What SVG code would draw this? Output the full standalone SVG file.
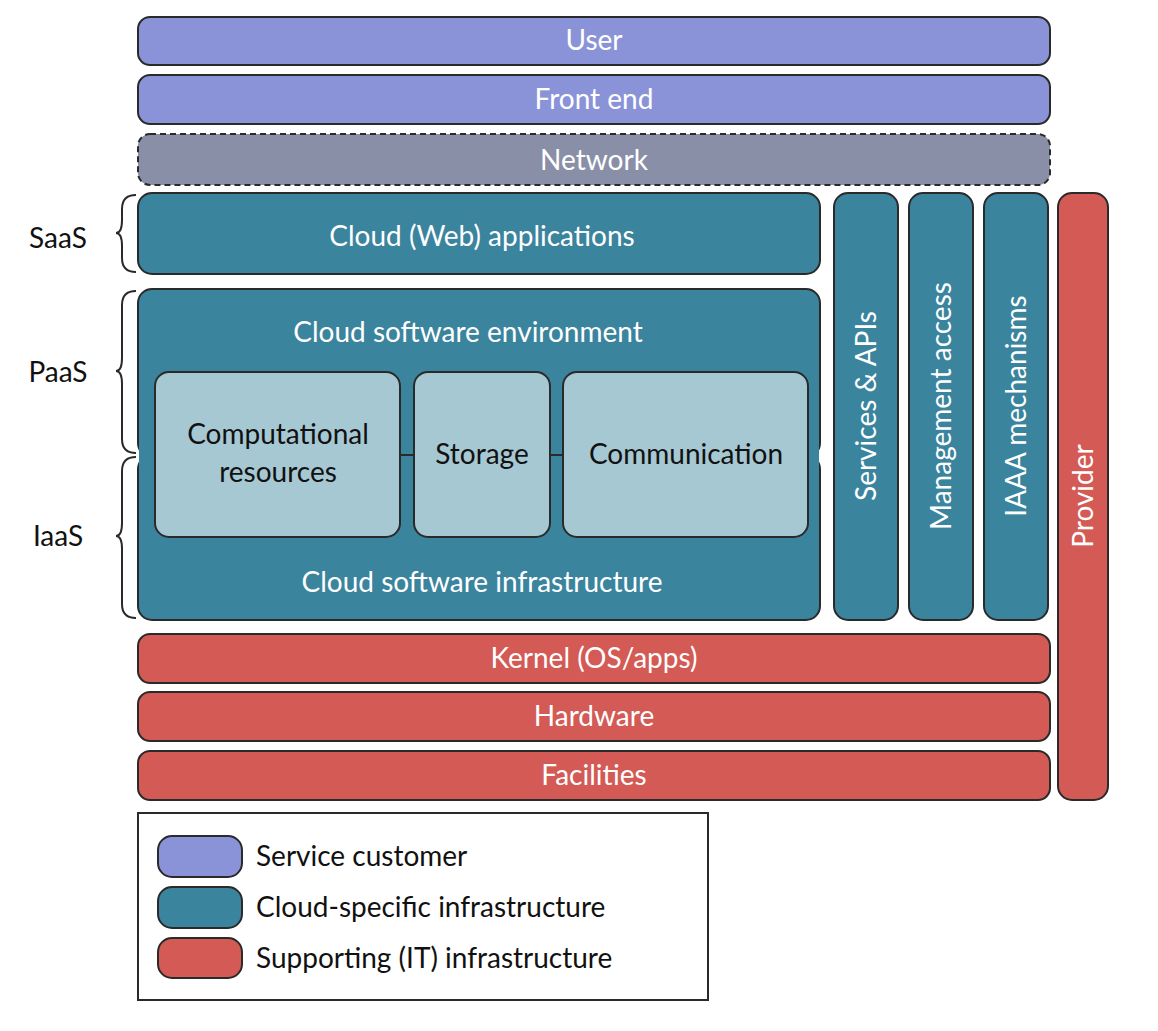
<svg xmlns="http://www.w3.org/2000/svg" width="1158" height="1031" viewBox="0 0 1158 1031">
<style>
.c{fill:#8b93d8;stroke:#2a2a2a;stroke-width:2}
.n{fill:#8a8fa8;stroke:#2a2a2a;stroke-width:2;stroke-dasharray:6 4}
.t{fill:#3b849e;stroke:#2a2a2a;stroke-width:2}
.r{fill:#d35a55;stroke:#2a2a2a;stroke-width:2}
.l{fill:#a6c8d3;stroke:#2a2a2a;stroke-width:2}
text{font-family:Lato,"Open Sans",sans-serif;font-size:28px;text-anchor:middle}
.w{fill:#fff}
.k{fill:#111}
.b{fill:none;stroke:#2a2a2a;stroke-width:2}
</style>
<g id="user"><rect class="c" x="138" y="17" width="912" height="48" rx="12"/><text class="w" x="594" y="50">User</text></g>
<g id="frontend"><rect class="c" x="138" y="75" width="912" height="49" rx="12"/><text class="w" x="594" y="109">Front  end</text></g>
<g id="network"><rect class="n" x="138" y="134" width="912" height="51" rx="12"/><text class="w" x="594" y="170">Network</text></g>
<g id="saas"><rect class="t" x="138" y="193" width="682" height="81" rx="14"/><text class="w" x="482" y="246">Cloud (Web) applications</text></g>
<g id="iaas"><rect class="t" x="138" y="455" width="682" height="165" rx="14"/><text class="w" x="482" y="592">Cloud software infrastructure</text></g>
<g id="paas"><rect class="t" x="138" y="289" width="682" height="168" rx="14"/><rect x="139" y="440" width="680" height="30" fill="#3b849e"/><text class="w" x="468" y="342">Cloud software environment</text></g>
<g id="connectors"><line class="b" x1="400" y1="455" x2="414" y2="455"/><line class="b" x1="550" y1="455" x2="563" y2="455"/></g>
<g id="comp"><rect class="l" x="155" y="372" width="245" height="165" rx="14"/><text class="k" x="278" y="444">Computational</text><text class="k" x="278" y="482">resources</text></g>
<g id="storage"><rect class="l" x="414" y="372" width="136" height="165" rx="14"/><text class="k" x="482" y="464">Storage</text></g>
<g id="comm"><rect class="l" x="563" y="372" width="245" height="165" rx="14"/><text class="k" x="686" y="464">Communication</text></g>
<g id="services"><rect class="t" x="834" y="193" width="64" height="427" rx="14"/><text class="w" transform="translate(876 406) rotate(-90)">Services &amp; APIs</text></g>
<g id="mgmt"><rect class="t" x="909" y="193" width="64" height="427" rx="14"/><text class="w" transform="translate(951 406) rotate(-90)">Management access</text></g>
<g id="iaaa"><rect class="t" x="984" y="193" width="64" height="427" rx="14"/><text class="w" transform="translate(1026 406) rotate(-90)">IAAA mechanisms</text></g>
<g id="provider"><rect class="r" x="1058" y="193" width="50" height="607" rx="14"/><text class="w" transform="translate(1093 496) rotate(-90)">Provider</text></g>
<g id="kernel"><rect class="r" x="138" y="634" width="912" height="49" rx="12"/><text class="w" x="594" y="668">Kernel (OS/apps)</text></g>
<g id="hardware"><rect class="r" x="138" y="692" width="912" height="49" rx="12"/><text class="w" x="594" y="726">Hardware</text></g>
<g id="facilities"><rect class="r" x="138" y="751" width="912" height="49" rx="12"/><text class="w" x="594" y="785">Facilities</text></g>
<g id="braces">
<path class="b" d="M136 195 Q122 195 122 209 V220 Q122 233 116 233 Q122 233 122 246 V258 Q122 272 136 272"/>
<path class="b" d="M136 291 Q122 291 122 305 V358 Q122 371 116 371 Q122 371 122 384 V439 Q122 453 136 453"/>
<path class="b" d="M136 457 Q122 457 122 471 V523 Q122 536 116 536 Q122 536 122 549 V604 Q122 618 136 618"/>
<text class="k" x="58" y="248">SaaS</text><text class="k" x="58" y="382">PaaS</text><text class="k" x="58" y="546">IaaS</text>
</g>
<g id="legend"><rect x="138" y="813" width="570" height="187" fill="#fff" stroke="#2a2a2a" stroke-width="2"/>
<rect class="c" x="158" y="836" width="84" height="41" rx="14"/><text class="k" x="256" y="866" style="text-anchor:start">Service customer</text>
<rect class="t" x="158" y="887" width="84" height="41" rx="14"/><text class="k" x="256" y="917" style="text-anchor:start">Cloud-specific infrastructure</text>
<rect class="r" x="158" y="938" width="84" height="40" rx="14"/><text class="k" x="256" y="968" style="text-anchor:start">Supporting (IT) infrastructure</text></g>
</svg>
